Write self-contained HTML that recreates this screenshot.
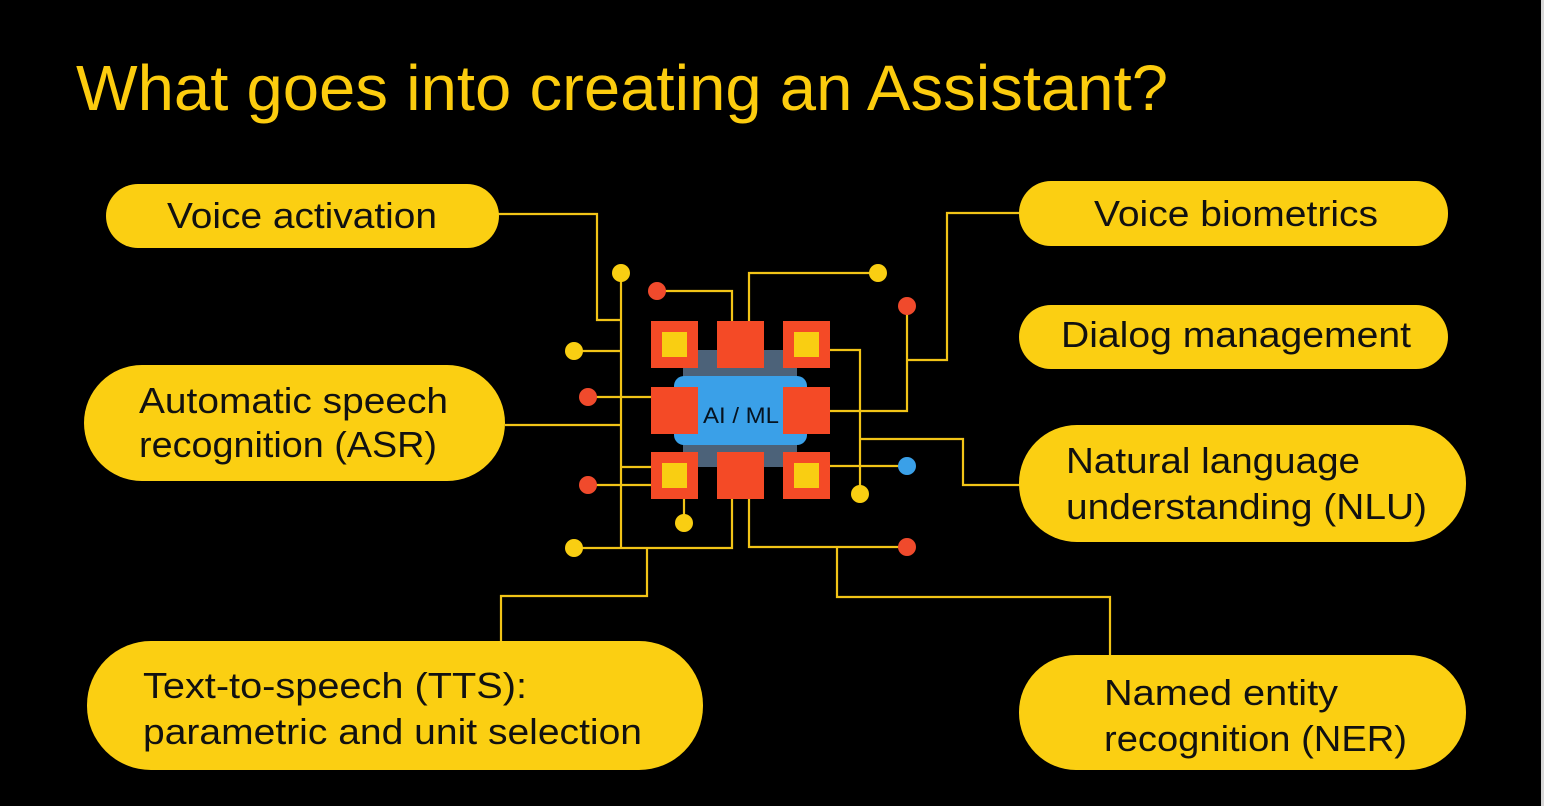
<!DOCTYPE html>
<html><head><meta charset="utf-8"><style>
html,body{margin:0;padding:0;background:#000;}
svg{display:block;}
text{font-family:"Liberation Sans",sans-serif;}
</style></head><body>
<svg width="1544" height="806" viewBox="0 0 1544 806" xmlns="http://www.w3.org/2000/svg">
<rect width="1544" height="806" fill="#000"/>
<rect x="1541" y="0" width="3" height="806" fill="#d8d8d8"/>
<text x="76" y="110" font-size="64" fill="#fccc0e" textLength="1092" lengthAdjust="spacingAndGlyphs">What goes into creating an Assistant?</text>

<g stroke="#f2c417" stroke-width="2.2" fill="none">
<polyline points="498,214 597,214 597,320 621,320"/>
<line x1="621" y1="273" x2="621" y2="548"/>
<line x1="574" y1="351" x2="621" y2="351"/>
<line x1="588" y1="397" x2="651" y2="397"/>
<line x1="505" y1="425" x2="621" y2="425"/>
<line x1="621" y1="467" x2="651" y2="467"/>
<line x1="588" y1="485" x2="651" y2="485"/>
<line x1="684" y1="499" x2="684" y2="523"/>
<polyline points="574,548 732,548 732,499"/>
<polyline points="647,548 647,596 501,596 501,642"/>
<polyline points="657,291 732,291 732,321"/>
<polyline points="749,321 749,273 878,273"/>
<polyline points="907,306 907,411 830,411"/>
<polyline points="907,360 947,360 947,213 1020,213"/>
<polyline points="830,350 860,350 860,494"/>
<polyline points="860,439 963,439 963,485 1020,485"/>
<line x1="830" y1="466" x2="907" y2="466"/>
<polyline points="749,499 749,547 907,547"/>
<polyline points="837,547 837,597 1110,597 1110,656"/>
</g>

<g fill="#f9ce12">
<circle cx="621" cy="273" r="9"/>
<circle cx="574" cy="351" r="9"/>
<circle cx="684" cy="523" r="9"/>
<circle cx="574" cy="548" r="9"/>
<circle cx="878" cy="273" r="9"/>
<circle cx="860" cy="494" r="9"/>
</g>
<g fill="#f04a2c">
<circle cx="657" cy="291" r="9"/>
<circle cx="588" cy="397" r="9"/>
<circle cx="588" cy="485" r="9"/>
<circle cx="907" cy="306" r="9"/>
<circle cx="907" cy="547" r="9"/>
</g>
<circle cx="907" cy="466" r="9" fill="#3aa0e8"/>

<rect x="683" y="350" width="114" height="117" fill="#4c6279"/>
<rect x="674" y="376" width="133" height="69" rx="10" fill="#3aa0e8"/>
<g fill="#f44a26">
<rect x="651" y="321" width="47" height="47"/>
<rect x="717" y="321" width="47" height="47"/>
<rect x="783" y="321" width="47" height="47"/>
<rect x="651" y="387" width="47" height="47"/>
<rect x="783" y="387" width="47" height="47"/>
<rect x="651" y="452" width="47" height="47"/>
<rect x="717" y="452" width="47" height="47"/>
<rect x="783" y="452" width="47" height="47"/>
</g>
<g fill="#f9ce12">
<rect x="662" y="332" width="25" height="25"/>
<rect x="794" y="332" width="25" height="25"/>
<rect x="662" y="463" width="25" height="25"/>
<rect x="794" y="463" width="25" height="25"/>
</g>
<text x="741" y="423" font-size="22" fill="#061320" text-anchor="middle" font-weight="500" textLength="76" lengthAdjust="spacingAndGlyphs">AI / ML</text>

<g fill="#fbcf12">
<rect x="106" y="184" width="393" height="64" rx="32"/>
<rect x="84" y="365" width="421" height="116" rx="58"/>
<rect x="87" y="641" width="616" height="129" rx="64"/>
<rect x="1019" y="181" width="429" height="65" rx="32"/>
<rect x="1019" y="305" width="429" height="64" rx="32"/>
<rect x="1019" y="425" width="447" height="117" rx="58"/>
<rect x="1019" y="655" width="447" height="115" rx="57"/>
</g>
<g fill="#111" font-size="36">
<text x="167" y="228" textLength="270" lengthAdjust="spacingAndGlyphs">Voice activation</text>
<text x="139" y="413" textLength="309" lengthAdjust="spacingAndGlyphs">Automatic speech</text>
<text x="139" y="457" textLength="298" lengthAdjust="spacingAndGlyphs">recognition (ASR)</text>
<text x="143" y="698" textLength="384" lengthAdjust="spacingAndGlyphs">Text-to-speech (TTS):</text>
<text x="143" y="744" textLength="499" lengthAdjust="spacingAndGlyphs">parametric and unit selection</text>
<text x="1094" y="226" textLength="284" lengthAdjust="spacingAndGlyphs">Voice biometrics</text>
<text x="1061" y="347" textLength="350" lengthAdjust="spacingAndGlyphs">Dialog management</text>
<text x="1066" y="473" textLength="294" lengthAdjust="spacingAndGlyphs">Natural language</text>
<text x="1066" y="519" textLength="361" lengthAdjust="spacingAndGlyphs">understanding (NLU)</text>
<text x="1104" y="705" textLength="234" lengthAdjust="spacingAndGlyphs">Named entity</text>
<text x="1104" y="751" textLength="303" lengthAdjust="spacingAndGlyphs">recognition (NER)</text>
</g>
</svg>
</body></html>
